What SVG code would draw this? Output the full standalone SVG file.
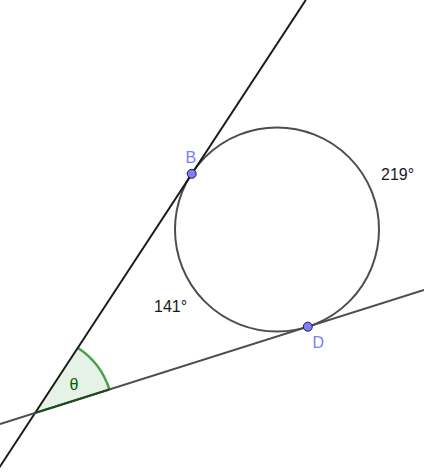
<svg xmlns="http://www.w3.org/2000/svg" width="424" height="472" viewBox="0 0 424 472">
<style>
.lbl{font-family:"Liberation Sans",Arial,sans-serif;font-size:16px}
.pt{fill:#7d7dff;stroke:#1a1a40;stroke-width:1}
.ptl{fill:#7d7dff}
</style>
<rect width="424" height="472" fill="#ffffff"/>
<g id="angle">
<path d="M35,413 L109.4,389.5 A78,78 0 0 0 77.7,347.7 Z" fill="#e6f2e6" stroke="none"/>
<path d="M109.4,389.5 A78,78 0 0 0 77.7,347.7" fill="none" stroke="#4ca04c" stroke-width="2.5"/>
<text class="lbl" x="69.5" y="390" fill="#006400">θ</text>
</g>
<g id="circle">
<circle cx="277" cy="229.5" r="102" fill="none" stroke="#4d4d4d" stroke-width="2"/>
</g>
<g id="connectors">
<line x1="305.8" y1="0" x2="-3.6" y2="472" stroke="#1a1a1a" stroke-width="2"/>
<line x1="0" y1="424.1" x2="424" y2="290" stroke="#4d4d4d" stroke-width="2"/>
<line x1="35" y1="413" x2="109.4" y2="389.5" stroke="#1e4a1e" stroke-width="2"/>
</g>
<g id="B">
<circle class="pt" cx="191.7" cy="173.8" r="4.5"/>
<text class="lbl ptl" x="185.5" y="162.7">B</text>
</g>
<g id="D">
<circle class="pt" cx="307.8" cy="326.7" r="4.5"/>
<text class="lbl ptl" x="312.5" y="348.3">D</text>
</g>
<g id="arcs">
<text class="lbl" x="381" y="180" fill="#1a1a1a">219°</text>
<text class="lbl" x="154" y="311.7" fill="#1a1a1a">141°</text>
</g>
</svg>
